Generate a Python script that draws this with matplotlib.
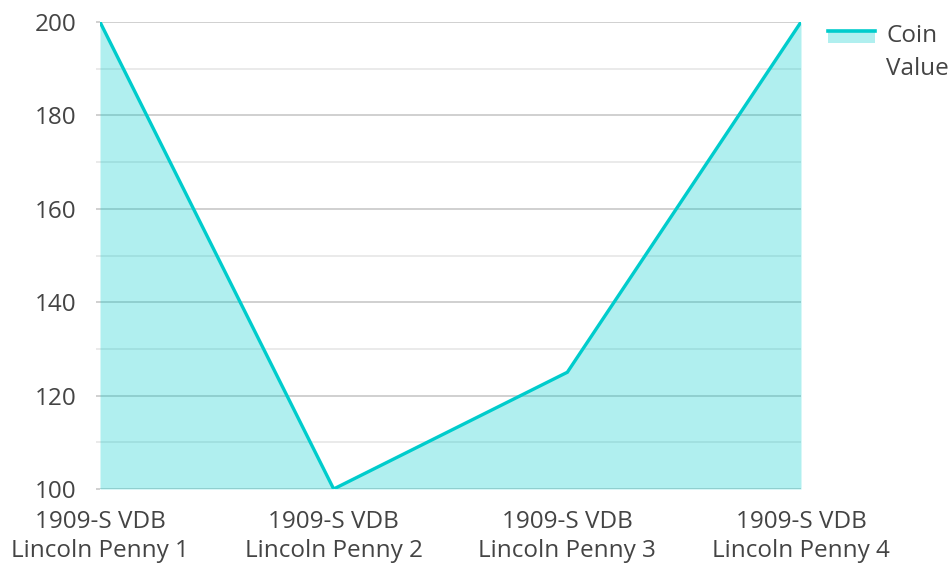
import matplotlib
matplotlib.use('Agg')
import matplotlib.pyplot as plt
from matplotlib.patches import Rectangle
from matplotlib.lines import Line2D
from matplotlib.ticker import MultipleLocator

plt.rcParams['font.family'] = ['Open Sans', 'DejaVu Sans']

coins = ['1909-S VDB\nLincoln Penny 1', '1909-S VDB\nLincoln Penny 2',
         '1909-S VDB\nLincoln Penny 3', '1909-S VDB\nLincoln Penny 4']
values = [200, 100, 125, 200]

line_color = '#00CCCC'
text_color = '#444444'
fsize = 17.5

# shift of the legend key upwards (points), so it sits by the first text line
key_shift = 21.6


class AreaHandler:
    # fill patch with the line along its top, like the reference legend
    def legend_artist(self, legend, orig_handle, fontsize, handlebox):
        x0, y0 = handlebox.xdescent, handlebox.ydescent
        w = handlebox.width
        tr = handlebox.get_transform()
        top = y0 + key_shift
        rect = Rectangle((x0, top - 8.5), w, 8.5, facecolor=line_color,
                         alpha=0.31, edgecolor='none', transform=tr)
        ln = Line2D([x0, x0 + w], [top, top], color=line_color, lw=2.6,
                    transform=tr)
        handlebox.add_artist(rect)
        handlebox.add_artist(ln)
        return rect


fig = plt.figure(figsize=(9.51, 5.63), dpi=100)
ax = fig.add_axes([100 / 951, 1 - 489 / 563, 701 / 951, 467 / 563])

x = list(range(len(coins)))
ax.fill_between(x, values, 100, color=line_color, alpha=0.31, lw=0, zorder=2)
line, = ax.plot(x, values, color=line_color, lw=2.4, zorder=3,
                solid_joinstyle='miter', label='Coin\nValue')

ax.set_xlim(0, 3)
ax.set_ylim(100, 200)
ax.yaxis.set_major_locator(MultipleLocator(20))
ax.yaxis.set_minor_locator(MultipleLocator(10))
ax.grid(which='major', axis='y', color='#C8C8C8', lw=1.2, zorder=1)
ax.grid(which='minor', axis='y', color='#E6E6E6', lw=1.2, zorder=1)
ax.set_axisbelow(True)

ax.set_xticks(x)
ax.set_xticklabels(coins)
for s in ax.spines.values():
    s.set_visible(False)

ax.tick_params(axis='x', length=0, pad=15, labelsize=fsize, labelcolor=text_color)
ax.tick_params(axis='y', which='major', length=3, width=1.2, color='#C8C8C8',
               pad=14, labelsize=fsize, labelcolor=text_color)
ax.tick_params(axis='y', which='minor', length=3, width=1.2, color='#E6E6E6')
for t in ax.get_xticklabels():
    t.set_linespacing(1.3)

leg = ax.legend(handles=[line], handler_map={Line2D: AreaHandler()},
                loc='upper left', bbox_to_anchor=(1.0385, 0.996), frameon=False,
                fontsize=fsize, labelcolor=text_color, handlelength=1.95,
                handletextpad=0.45, borderpad=0, borderaxespad=0)
for t in leg.get_texts():
    t.set_linespacing(1.48)

fig.savefig('out.png', dpi=100)
